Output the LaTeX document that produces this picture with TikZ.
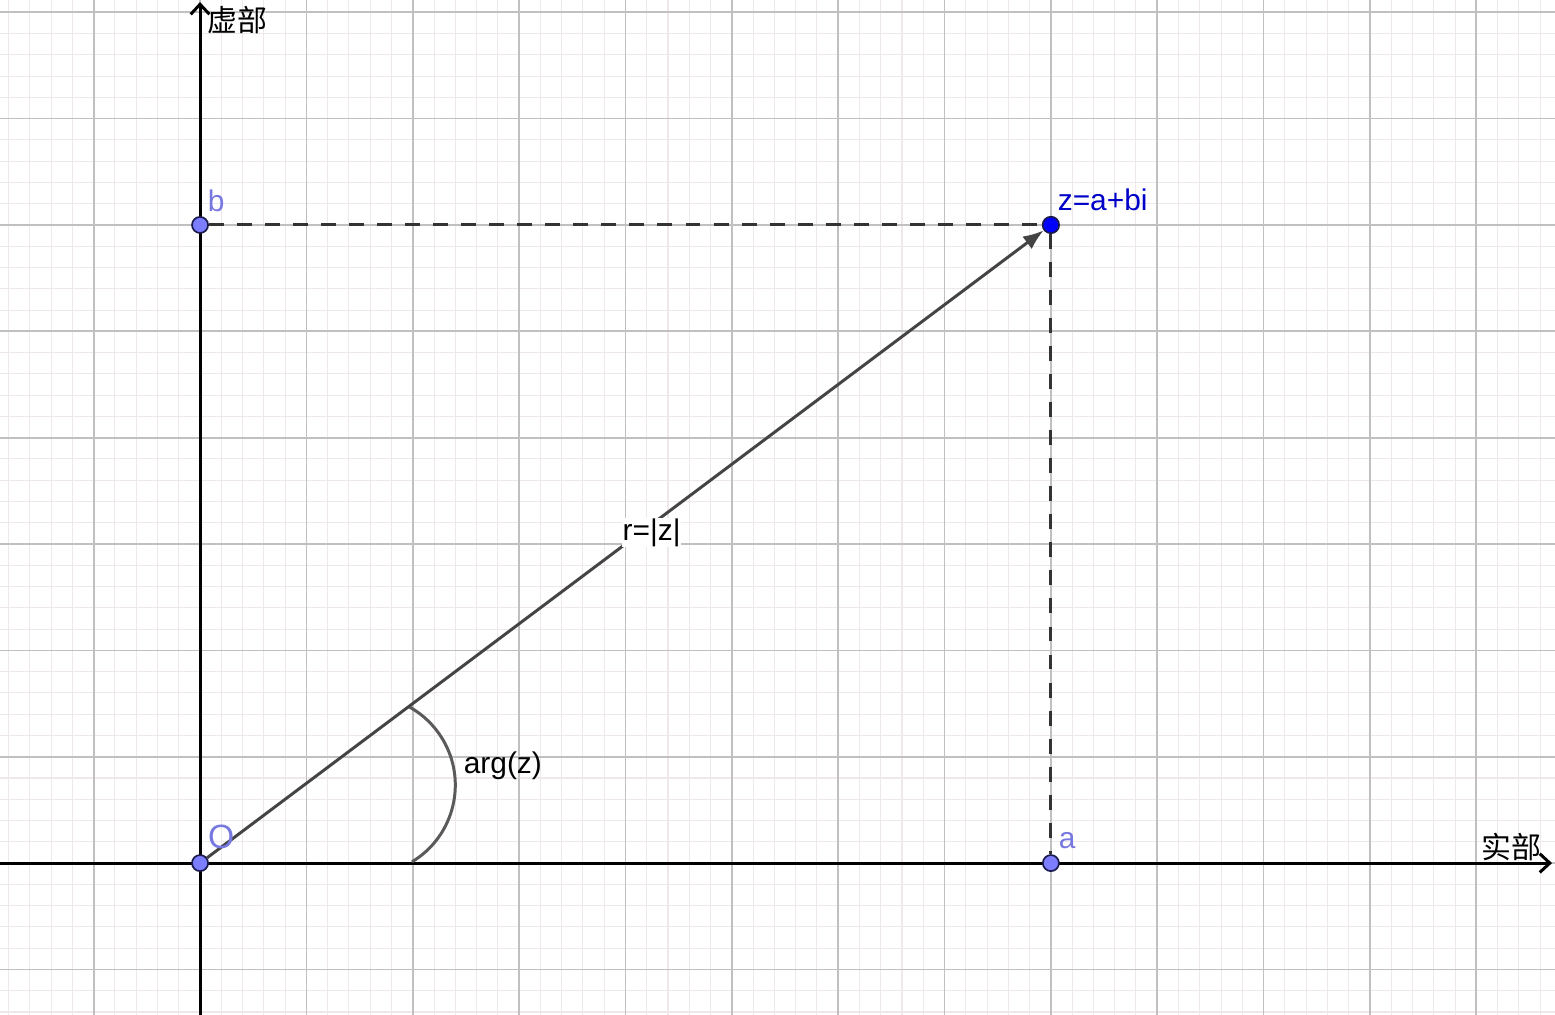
\documentclass[tikz,border=0pt]{standalone}
\usepackage{fontspec}
\setmainfont{Liberation Sans}
\newfontfamily\cjk{Noto Sans CJK SC}
\usetikzlibrary{arrows.meta,calc}
\definecolor{minorgrid}{RGB}{238,232,236}
\definecolor{majorgrid}{RGB}{192,192,192}
\definecolor{ptfill}{RGB}{125,125,255}
\definecolor{ptline}{RGB}{26,26,77}
\definecolor{ptlabel}{RGB}{120,120,225}
\definecolor{zfill}{RGB}{0,0,255}
\definecolor{zlabel}{RGB}{0,0,200}
\definecolor{vecc}{RGB}{68,68,68}
\definecolor{dashc}{RGB}{51,51,51}
\definecolor{arcc}{RGB}{90,90,90}
\tikzset{
  lbl/.style={inner sep=0pt, font=\fontsize{8}{9.6}\selectfont},
  cjklbl/.style={inner sep=0pt, font=\fontsize{8}{9.6}\selectfont\cjk},
  pt/.style={circle, draw=ptline, fill=ptfill, line width=0.45pt, minimum size=4.3pt, inner sep=0pt},
  zpt/.style={circle, draw=ptline, fill=zfill, line width=0.45pt, minimum size=4.4pt, inner sep=0pt},
  axisline/.style={line width=0.8pt, black, -{Straight Barb[length=2.7pt,width=5pt]}},
  dashline/.style={dashc, line width=0.8pt, dash pattern=on 4pt off 3.5pt},
  vecline/.style={vecc, line width=0.8pt, -{Latex[length=5.5pt,width=4.2pt]}},
}
\begin{document}
\begin{tikzpicture}
\useasboundingbox (-1.881,-1.419) rectangle (12.740,8.115);
\clip (-1.881,-1.419) rectangle (12.740,8.115);
\fill[white] (-1.881,-1.419) rectangle (12.740,8.115);
% grid
\draw[minorgrid, line width=0.28pt] (-2,-1.6) grid[step=0.2] (12.8,8.2);
\draw[majorgrid, line width=0.45pt] (-2,-2) grid[step=1] (13,9);
% axes
\coordinate (xs) at (-1.9,0);
\coordinate (xe) at (12.712,0);
\coordinate (ys) at (0,-1.45);
\coordinate (ye) at (0,8.096);
\draw[axisline] (xs) -- (xe);
\draw[axisline] (ys) -- (ye);
% angle arc
\draw[arcc, line width=0.8pt] ($(1.558,0.733)+(-58.9:0.842)$) arc[start angle=-58.9, end angle=60.7, radius=0.842];
% points
\node[pt] (O) at (0,0) {};
\node[pt] (A) at (8,0) {};
\node[pt] (B) at (0,6) {};
\node[zpt] (Z) at (8,6) {};
% lines
\draw[dashline] (B) -- (Z);
\draw[dashline] (Z) -- (A);
\draw[vecline] (O) -- (Z);
% labels
\node[lbl, anchor=base west, fill=white, inner sep=0.2pt] (rl) at (3.959,3.037) {r=|z|};
\node[lbl, anchor=base west] (argl) at (2.473,0.846) {arg(z)};
\node[lbl, anchor=base west, text=ptlabel, font=\fontsize{9}{10}\selectfont] (Ol) at (0.068,0.141) {O};
\node[lbl, anchor=base west, text=ptlabel] (al) at (8.068,0.141) {a};
\node[lbl, anchor=base west, text=ptlabel] (bl) at (0.066,6.13) {b};
\node[lbl, anchor=base west, text=zlabel] (zl) at (8.058,6.14) {z=a+bi};
\node[cjklbl, anchor=west] (yl) at (0.066,7.93) {虚部};
\node[cjklbl, anchor=west] (xl) at (12.045,0.15) {实部};
\end{tikzpicture}
\end{document}
